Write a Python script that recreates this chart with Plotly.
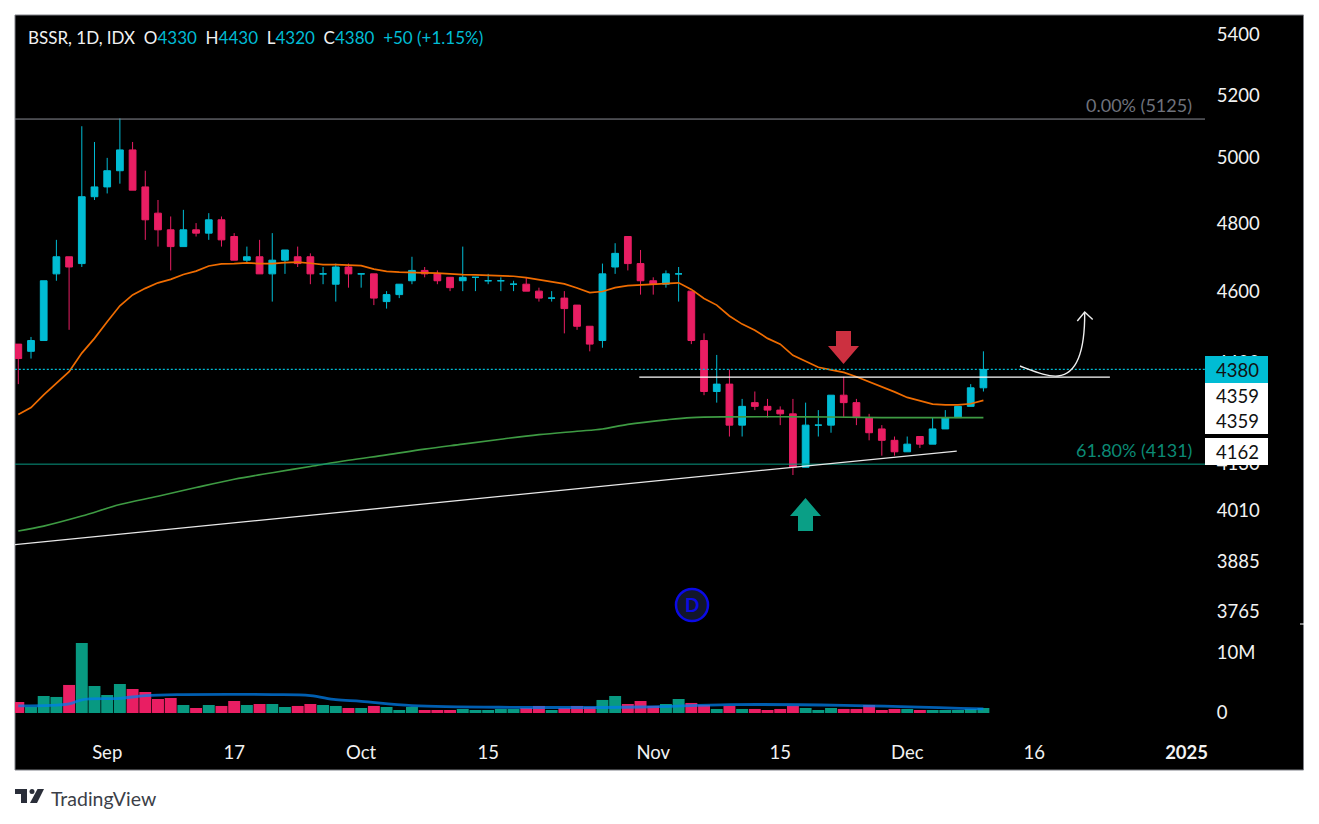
import plotly.graph_objects as go

# page has an 8px body margin, so the figure is 16px smaller than the window
FIG_W = 1303
FIG_H = 808
FONT = "Lato, sans-serif"

UP = "#00BCD4"
DOWN = "#E91E63"
VOL_UP = "#089981"
VOL_DOWN = "#E91E63"

opens = [4450, 4430, 4460, 4650, 4700, 4680, 4880, 4910, 4960, 5025, 4910, 4830, 4780, 4730, 4780, 4770,
         4810, 4760, 4690, 4700, 4650, 4690, 4700, 4700, 4650, 4620, 4670, 4650, 4650, 4570, 4590, 4630,
         4660, 4650, 4640, 4630, 4640, 4630, 4630, 4620, 4620, 4600, 4580, 4580, 4560, 4500, 4460, 4670,
         4760, 4680, 4630, 4620, 4650, 4600, 4460, 4320, 4340, 4230, 4290, 4280, 4270, 4260, 4120, 4230,
         4230, 4310, 4290, 4250, 4220, 4190, 4160, 4200, 4180, 4220, 4250, 4280, 4330]
highs = [4450, 4470, 4630, 4750, 4700, 5100, 5050, 5000, 5125, 5050, 4960, 4870, 4820, 4840, 4800, 4830,
         4820, 4770, 4730, 4750, 4770, 4720, 4730, 4710, 4670, 4680, 4680, 4650, 4650, 4600, 4620, 4700,
         4670, 4660, 4640, 4730, 4640, 4650, 4640, 4630, 4640, 4610, 4600, 4600, 4560, 4500, 4680, 4740,
         4760, 4720, 4640, 4660, 4670, 4600, 4480, 4420, 4380, 4300, 4320, 4300, 4280, 4300, 4290, 4270,
         4310, 4360, 4300, 4260, 4230, 4200, 4200, 4200, 4250, 4270, 4280, 4340, 4430]
lows = [4340, 4410, 4460, 4630, 4490, 4670, 4870, 4890, 4920, 4900, 4750, 4730, 4660, 4730, 4760, 4750,
        4730, 4690, 4680, 4650, 4570, 4650, 4670, 4620, 4620, 4570, 4610, 4610, 4560, 4550, 4580, 4620,
        4640, 4620, 4600, 4600, 4600, 4620, 4600, 4600, 4600, 4570, 4570, 4480, 4490, 4430, 4440, 4650,
        4660, 4590, 4590, 4610, 4570, 4450, 4310, 4290, 4200, 4200, 4270, 4250, 4230, 4100, 4120, 4200,
        4210, 4250, 4230, 4190, 4150, 4150, 4160, 4170, 4180, 4220, 4250, 4280, 4320]
closes = [4410, 4460, 4630, 4700, 4670, 4880, 4910, 4960, 5025, 4900, 4810, 4780, 4730, 4780, 4770, 4810,
          4750, 4690, 4700, 4650, 4690, 4720, 4680, 4650, 4650, 4670, 4650, 4650, 4580, 4590, 4620, 4660,
          4650, 4630, 4610, 4640, 4640, 4630, 4630, 4620, 4600, 4580, 4580, 4550, 4500, 4450, 4650, 4710,
          4680, 4630, 4620, 4650, 4650, 4460, 4320, 4340, 4230, 4280, 4280, 4270, 4260, 4120, 4230, 4230,
          4310, 4290, 4250, 4210, 4190, 4160, 4180, 4180, 4220, 4250, 4280, 4330, 4380]
# volume, millions
volumes = [1.83, 1.0, 2.83, 2.67, 4.67, 11.67, 4.5, 3.0, 4.83, 4.0, 3.5, 2.33, 2.5, 1.33, 0.83, 1.33,
           1.17, 2.0, 1.33, 1.5, 1.5, 1.0, 1.17, 1.5, 1.33, 1.17, 0.83, 0.83, 1.17, 1.0, 0.5, 1.0,
           0.5, 0.5, 0.5, 0.67, 0.5, 0.5, 0.67, 0.67, 0.83, 1.17, 0.5, 0.83, 1.17, 1.0, 2.17, 2.83,
           1.5, 2.0, 1.17, 1.5, 2.33, 1.67, 1.33, 0.67, 1.17, 0.67, 0.67, 0.5, 0.67, 1.17, 0.83, 0.5,
           0.83, 0.67, 0.67, 1.33, 0.5, 0.67, 0.67, 0.5, 0.5, 0.5, 0.5, 0.67, 0.83]
ema20 = [4258, 4277, 4311, 4342, 4374, 4425, 4466, 4513, 4558, 4589, 4608, 4624, 4634, 4648, 4658, 4673,
         4679, 4680, 4682, 4680, 4680, 4683, 4684, 4681, 4677, 4677, 4676, 4674, 4664, 4657, 4655, 4655,
         4653, 4652, 4649, 4648, 4647, 4646, 4645, 4643, 4639, 4633, 4629, 4621, 4609, 4596, 4599, 4610,
         4616, 4618, 4619, 4623, 4624, 4605, 4579, 4560, 4529, 4506, 4489, 4466, 4450, 4419, 4403, 4386,
         4379, 4372, 4360, 4347, 4333, 4319, 4304, 4294, 4286, 4284, 4284, 4287, 4296]
ma_long_idx = [0, 2, 5, 8, 11, 14, 17, 20, 23, 26, 29, 32, 35, 38, 41, 44, 46, 48, 51, 53, 56, 62, 68, 76]
ma_long = [3959, 3971, 3996, 4025, 4046, 4068, 4089, 4106, 4122, 4138, 4152, 4167, 4180, 4193, 4205, 4214,
           4220, 4232, 4244, 4250, 4252, 4252, 4250, 4250]
vol_ma_idx = [0, 4, 5, 8, 10, 13, 20, 23, 25, 27, 31, 39, 49, 56, 65, 76]
vol_ma = [1.17, 1.5, 2.2, 2.44, 2.89, 3.06, 3.06, 2.89, 2.22, 1.94, 1.22, 0.94, 1.0, 1.39, 1.28, 0.67]

price_ticks = [5400, 5200, 5000, 4800, 4600, 4400, 4130, 4010, 3885, 3765]
time_ticks = [7, 17, 27, 37, 50, 60, 70, 80, 92]
time_labels = ["Sep", "17", "Oct", "15", "Nov", "15", "Dec", "16", "<b>2025</b>"]

# fib lines, a touch under their labelled prices
fib_top = 5123
fib_618 = 4128
level = 4359
last_close = 4380
trend_x = [-1, 73.9]
trend_y = [3923, 4162]
level_x = [48.9, 85.96]


def fx(px):
    return (px - 8) / FIG_W


def fy(py):
    return 1 - (py - 8) / FIG_H


def poly(points, color, width=0):
    # closed shape in screenshot pixels
    path = "M " + " L ".join(f"{fx(x):.5f},{fy(y):.5f}" for x, y in points) + " Z"
    return dict(type="path", xref="paper", yref="paper", path=path, fillcolor=color,
                line=dict(color=color, width=width), layer="above")


def label(px, py, text, color="#f2f2f2", size=18.5, anchor="left"):
    fig.add_annotation(xref="paper", yref="paper", x=fx(px), y=fy(py), text=text, showarrow=False,
                       xanchor=anchor, yanchor="middle", borderpad=0,
                       font=dict(family=FONT, size=size, color=color))


bars = list(range(len(closes)))
fig = go.Figure()

# ma lines sit under the candles
fig.add_trace(go.Scatter(x=ma_long_idx, y=ma_long, mode="lines", line=dict(color="#3E9B43", width=1.6, shape="spline")))
fig.add_trace(go.Scatter(x=bars, y=ema20, mode="lines", line=dict(color="#EF6C00", width=1.7)))

# two traces so doji bars keep the up colour
for color, keep in ((UP, lambda o, c: c >= o), (DOWN, lambda o, c: c < o)):
    idx = [i for i in bars if keep(opens[i], closes[i])]
    side = dict(line=dict(color=color, width=1), fillcolor=color)
    fig.add_trace(go.Candlestick(
        x=idx,
        open=[opens[i] for i in idx],
        high=[highs[i] for i in idx],
        low=[lows[i] for i in idx],
        close=[closes[i] for i in idx],
        increasing=side,
        decreasing=side,
        whiskerwidth=0,
    ))

# drawings
fig.add_trace(go.Scatter(x=[-5, 100], y=[last_close, last_close], mode="lines",
                         line=dict(color=UP, width=1.2, dash="2px,2px")))
fig.add_trace(go.Scatter(x=[-5, 100], y=[fib_top, fib_top], mode="lines", line=dict(color="#8a8d96", width=1)))
fig.add_trace(go.Scatter(x=[-5, 100], y=[fib_618, fib_618], mode="lines", line=dict(color="#089981", width=1)))
fig.add_trace(go.Scatter(x=trend_x, y=trend_y, mode="lines", line=dict(color="#e8e8e8", width=1.3)))
fig.add_trace(go.Scatter(x=level_x, y=[level, level], mode="lines", line=dict(color="white", width=1.3)))

# volume pane
vol_colors = [VOL_UP if closes[i] >= opens[i] else VOL_DOWN for i in bars]
fig.add_trace(go.Bar(x=bars, y=[v * 1e6 for v in volumes], marker=dict(color=vol_colors, line_width=0), yaxis="y2"))
fig.add_trace(go.Scatter(x=vol_ma_idx, y=[v * 1e6 for v in vol_ma], mode="lines", yaxis="y2",
                         line=dict(color="rgba(0,125,235,0.75)", width=2.8, shape="spline")))

tick_font = dict(family=FONT, size=18.5, color="#f2f2f2")
fig.update_layout(
    width=FIG_W,
    height=FIG_H,
    margin=dict(l=0, r=0, t=0, b=0, autoexpand=False),
    paper_bgcolor="white",
    plot_bgcolor="black",
    showlegend=False,
    bargap=0.06,
    boxgap=0.24,
    font=dict(family=FONT, size=18.5, color="#f2f2f2"),
    xaxis=dict(
        domain=[fx(15), fx(1205)],
        range=[-0.26, 93.45],
        anchor="y2",
        rangeslider=dict(visible=False),
        showgrid=False,
        zeroline=False,
        showline=False,
        tickmode="array",
        tickvals=time_ticks,
        ticktext=time_labels,
        ticks="outside",
        ticklen=1,
        tickcolor="rgba(0,0,0,0)",
        tickfont=tick_font,
    ),
    yaxis=dict(
        domain=[fy(624), fy(15)],
        type="log",
        range=[3.5723, 3.7378],
        side="right",
        showgrid=False,
        zeroline=False,
        showline=False,
        tickmode="array",
        tickvals=price_ticks,
        ticktext=[str(t) for t in price_ticks],
        ticks="outside",
        ticklen=7,
        tickcolor="rgba(0,0,0,0)",
        tickfont=tick_font,
    ),
    yaxis2=dict(
        domain=[fy(735), fy(624)],
        range=[-3.67e6, 14.83e6],
        side="right",
        anchor="x",
        showgrid=False,
        zeroline=False,
        showline=False,
        tickmode="array",
        tickvals=[0, 10e6],
        ticktext=["0", "10M"],
        ticks="outside",
        ticklen=7,
        tickcolor="rgba(0,0,0,0)",
        tickfont=tick_font,
    ),
)

shapes = [
    # chart frame
    dict(type="rect", xref="paper", yref="paper", x0=fx(15), x1=fx(1303.5), y0=fy(770), y1=fy(15),
         fillcolor="black", line=dict(color="#7f8087", width=1), layer="below"),
    # pane separator nick on the right edge
    dict(type="line", xref="paper", yref="paper", x0=fx(1300), x1=fx(1304), y0=fy(624), y1=fy(624),
         line=dict(color="white", width=1), layer="above"),
    # last price / level badges
    dict(type="rect", xref="paper", yref="paper", x0=fx(1205), x1=fx(1268), y0=fy(383), y1=fy(356),
         fillcolor=UP, line_width=0, layer="above"),
    dict(type="rect", xref="paper", yref="paper", x0=fx(1205), x1=fx(1268), y0=fy(434), y1=fy(383),
         fillcolor="white", line_width=0, layer="above"),
    dict(type="rect", xref="paper", yref="paper", x0=fx(1205), x1=fx(1268), y0=fy(465), y1=fy(438),
         fillcolor="white", line_width=0, layer="above"),
    # red and green arrows
    poly([(836, 331), (851, 331), (851, 346), (859, 346), (843.5, 364), (828, 346), (836, 346)], "#CC3040"),
    poly([(798, 531), (813, 531), (813, 516), (821, 516), (805.5, 498), (790, 516), (798, 516)], "#0A9F86"),
    # D marker
    dict(type="circle", xref="paper", yref="paper", x0=fx(676), x1=fx(708), y0=fy(621), y1=fy(589),
         fillcolor="#12162b", line=dict(color="#0a0ae6", width=2.5), layer="above"),
    # TradingView logo
    poly([(15, 789), (27, 789), (27, 803), (21, 803), (21, 794), (15, 794)], "#2a2e39"),
    poly([(37.5, 789), (44, 789), (37, 803), (30, 803)], "#2a2e39"),
    dict(type="circle", xref="paper", yref="paper", x0=fx(29.5), x1=fx(34.5), y0=fy(794), y1=fy(789),
         fillcolor="#2a2e39", line_width=0, layer="above"),
]

# hand drawn curved arrow
curve = (f"M {fx(1020):.5f},{fy(366):.5f} C {fx(1036):.5f},{fy(372):.5f} {fx(1048):.5f},{fy(377):.5f} "
         f"{fx(1058):.5f},{fy(376):.5f} C {fx(1078):.5f},{fy(374):.5f} {fx(1085):.5f},{fy(350):.5f} "
         f"{fx(1084.7):.5f},{fy(312):.5f}")
head = (f"M {fx(1077.3):.5f},{fy(321):.5f} L {fx(1084.7):.5f},{fy(312):.5f} L {fx(1092.7):.5f},{fy(319.5):.5f}")
for p in (curve, head):
    shapes.append(dict(type="path", xref="paper", yref="paper", path=p, line=dict(color="#eeeeee", width=1.4), layer="above"))
fig.update_layout(shapes=shapes)

cyan = f"<span style='color:{UP}'>"
header = (f"BSSR, 1D, IDX  O{cyan}4330</span>  H{cyan}4430</span>  L{cyan}4320</span>  C{cyan}4380</span>  "
          f"{cyan}+50 (+1.15%)</span>")
label(27, 37.5, header, size=17)
label(1193, 104.5, "0.00% (5125)", color="#6f727c", anchor="right", size=18)
label(1193, 450, "61.80% (4131)", color="#0b8a75", anchor="right", size=18)
label(1260, 370, "4380", color="#111111", anchor="right")
label(1260, 396, "4359", color="#111111", anchor="right")
label(1260, 421, "4359", color="#111111", anchor="right")
label(1260, 452, "4162", color="#111111", anchor="right")
label(692.3, 604.5, "<b>D</b>", color="#0a0ae6", size=19, anchor="center")
label(50, 798, "TradingView", color="#3c3f48", size=19.5)

fig.write_html("out.html")
